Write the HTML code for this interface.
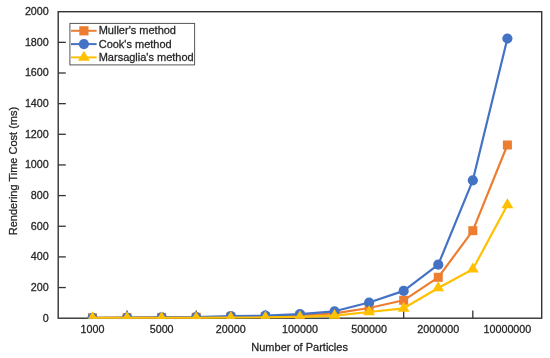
<!DOCTYPE html><html><head><meta charset="utf-8"><title>chart</title><style>html,body{margin:0;padding:0;background:#fff}svg{display:block}text{stroke:#262626;stroke-width:.28px}</style></head><body><svg width="550" height="358" viewBox="0 0 550 358" font-family="'Liberation Sans', Arial, sans-serif" font-size="11.0" fill="#262626">
<rect width="550" height="358" fill="#fff"/>
<defs><clipPath id="c"><rect x="58.2" y="11.7" width="483.50000000000006" height="307.1"/></clipPath></defs>
<line x1="58.2" x2="65.8" y1="287.55" y2="287.55" stroke="#333" stroke-width="1.3"/>
<line x1="58.2" x2="65.8" y1="256.90" y2="256.90" stroke="#333" stroke-width="1.3"/>
<line x1="58.2" x2="65.8" y1="226.25" y2="226.25" stroke="#333" stroke-width="1.3"/>
<line x1="58.2" x2="65.8" y1="195.60" y2="195.60" stroke="#333" stroke-width="1.3"/>
<line x1="58.2" x2="65.8" y1="164.95" y2="164.95" stroke="#333" stroke-width="1.3"/>
<line x1="58.2" x2="65.8" y1="134.30" y2="134.30" stroke="#333" stroke-width="1.3"/>
<line x1="58.2" x2="65.8" y1="103.65" y2="103.65" stroke="#333" stroke-width="1.3"/>
<line x1="58.2" x2="65.8" y1="73.00" y2="73.00" stroke="#333" stroke-width="1.3"/>
<line x1="58.2" x2="65.8" y1="42.35" y2="42.35" stroke="#333" stroke-width="1.3"/>
<text x="48.8" y="321.50" text-anchor="end" font-size="10.75">0</text>
<text x="48.8" y="290.85" text-anchor="end" font-size="10.75">200</text>
<text x="48.8" y="260.20" text-anchor="end" font-size="10.75">400</text>
<text x="48.8" y="229.55" text-anchor="end" font-size="10.75">600</text>
<text x="48.8" y="198.90" text-anchor="end" font-size="10.75">800</text>
<text x="48.8" y="168.25" text-anchor="end" font-size="10.75">1000</text>
<text x="48.8" y="137.60" text-anchor="end" font-size="10.75">1200</text>
<text x="48.8" y="106.95" text-anchor="end" font-size="10.75">1400</text>
<text x="48.8" y="76.30" text-anchor="end" font-size="10.75">1600</text>
<text x="48.8" y="45.65" text-anchor="end" font-size="10.75">1800</text>
<text x="48.8" y="15.00" text-anchor="end" font-size="10.75">2000</text>
<line x1="127.07" x2="127.07" y1="318.2" y2="310.4" stroke="#333" stroke-width="1.3"/>
<line x1="196.22" x2="196.22" y1="318.2" y2="310.4" stroke="#333" stroke-width="1.3"/>
<line x1="265.38" x2="265.38" y1="318.2" y2="310.4" stroke="#333" stroke-width="1.3"/>
<line x1="334.52" x2="334.52" y1="318.2" y2="310.4" stroke="#333" stroke-width="1.3"/>
<line x1="403.67" x2="403.67" y1="318.2" y2="310.4" stroke="#333" stroke-width="1.3"/>
<line x1="472.82" x2="472.82" y1="318.2" y2="310.4" stroke="#333" stroke-width="1.3"/>
<text x="92.50" y="332.7" text-anchor="middle" font-size="10.75">1000</text>
<text x="161.65" y="332.7" text-anchor="middle" font-size="10.75">5000</text>
<text x="230.80" y="332.7" text-anchor="middle" font-size="10.75">20000</text>
<text x="299.95" y="332.7" text-anchor="middle" font-size="10.75">100000</text>
<text x="369.10" y="332.7" text-anchor="middle" font-size="10.75">500000</text>
<text x="438.25" y="332.7" text-anchor="middle" font-size="10.75">2000000</text>
<text x="507.40" y="332.7" text-anchor="middle" font-size="10.75">10000000</text>
<text x="299.6" y="350.9" text-anchor="middle">Number of Particles</text>
<text transform="translate(17.1,171) rotate(-90)" text-anchor="middle">Rendering Time Cost (ms)</text>
<rect x="58.2" y="11.7" width="483.50000000000006" height="306.5" fill="none" stroke="#333" stroke-width="1.4"/>
<g clip-path="url(#c)">
<polyline points="92.50,317.80 127.07,317.70 161.65,317.40 196.22,317.30 230.80,317.00 265.38,316.60 299.95,315.50 334.52,313.30 369.10,308.00 403.67,300.30 438.25,277.30 472.82,230.70 507.40,145.00" fill="none" stroke="#ED7D31" stroke-width="2.2" stroke-linejoin="round"/>
<rect x="88.00" y="313.30" width="9" height="9" fill="#ED7D31"/>
<rect x="122.57" y="313.20" width="9" height="9" fill="#ED7D31"/>
<rect x="157.15" y="312.90" width="9" height="9" fill="#ED7D31"/>
<rect x="191.72" y="312.80" width="9" height="9" fill="#ED7D31"/>
<rect x="226.30" y="312.50" width="9" height="9" fill="#ED7D31"/>
<rect x="260.88" y="312.10" width="9" height="9" fill="#ED7D31"/>
<rect x="295.45" y="311.00" width="9" height="9" fill="#ED7D31"/>
<rect x="330.02" y="308.80" width="9" height="9" fill="#ED7D31"/>
<rect x="364.60" y="303.50" width="9" height="9" fill="#ED7D31"/>
<rect x="399.17" y="295.80" width="9" height="9" fill="#ED7D31"/>
<rect x="433.75" y="272.80" width="9" height="9" fill="#ED7D31"/>
<rect x="468.32" y="226.20" width="9" height="9" fill="#ED7D31"/>
<rect x="502.90" y="140.50" width="9" height="9" fill="#ED7D31"/>
<polyline points="92.50,317.80 127.07,317.70 161.65,317.30 196.22,317.10 230.80,316.00 265.38,315.70 299.95,314.10 334.52,311.30 369.10,302.50 403.67,290.90 438.25,264.70 472.82,180.30 507.40,38.50" fill="none" stroke="#4472C4" stroke-width="2.2" stroke-linejoin="round"/>
<circle cx="92.50" cy="317.80" r="5.1" fill="#4472C4"/>
<circle cx="127.07" cy="317.70" r="5.1" fill="#4472C4"/>
<circle cx="161.65" cy="317.30" r="5.1" fill="#4472C4"/>
<circle cx="196.22" cy="317.10" r="5.1" fill="#4472C4"/>
<circle cx="230.80" cy="316.00" r="5.1" fill="#4472C4"/>
<circle cx="265.38" cy="315.70" r="5.1" fill="#4472C4"/>
<circle cx="299.95" cy="314.10" r="5.1" fill="#4472C4"/>
<circle cx="334.52" cy="311.30" r="5.1" fill="#4472C4"/>
<circle cx="369.10" cy="302.50" r="5.1" fill="#4472C4"/>
<circle cx="403.67" cy="290.90" r="5.1" fill="#4472C4"/>
<circle cx="438.25" cy="264.70" r="5.1" fill="#4472C4"/>
<circle cx="472.82" cy="180.30" r="5.1" fill="#4472C4"/>
<circle cx="507.40" cy="38.50" r="5.1" fill="#4472C4"/>
<polyline points="92.50,317.90 127.07,317.90 161.65,317.90 196.22,317.90 230.80,317.70 265.38,317.40 299.95,316.90 334.52,315.60 369.10,312.00 403.67,308.30 438.25,288.00 472.82,269.20 507.40,204.90" fill="none" stroke="#FFC000" stroke-width="2.2" stroke-linejoin="round"/>
<polygon points="92.50,311.23 98.40,321.23 86.60,321.23" fill="#FFC000"/>
<polygon points="127.07,311.23 132.97,321.23 121.17,321.23" fill="#FFC000"/>
<polygon points="161.65,311.23 167.55,321.23 155.75,321.23" fill="#FFC000"/>
<polygon points="196.22,311.23 202.12,321.23 190.32,321.23" fill="#FFC000"/>
<polygon points="230.80,311.03 236.70,321.03 224.90,321.03" fill="#FFC000"/>
<polygon points="265.38,310.73 271.27,320.73 259.48,320.73" fill="#FFC000"/>
<polygon points="299.95,310.23 305.85,320.23 294.05,320.23" fill="#FFC000"/>
<polygon points="334.52,308.93 340.42,318.93 328.62,318.93" fill="#FFC000"/>
<polygon points="369.10,305.33 375.00,315.33 363.20,315.33" fill="#FFC000"/>
<polygon points="403.67,301.63 409.57,311.63 397.77,311.63" fill="#FFC000"/>
<polygon points="438.25,281.33 444.15,291.33 432.35,291.33" fill="#FFC000"/>
<polygon points="472.82,262.53 478.72,272.53 466.92,272.53" fill="#FFC000"/>
<polygon points="507.40,198.23 513.30,208.23 501.50,208.23" fill="#FFC000"/>
</g>
<rect x="69.9" y="23.4" width="124.7" height="41.5" fill="#fff" stroke="#555" stroke-width="1"/>
<line x1="71" x2="96.6" y1="30.8" y2="30.8" stroke="#ED7D31" stroke-width="2"/>
<rect x="79.30000000000001" y="26.200000000000003" width="9.2" height="9.2" fill="#ED7D31"/>
<text x="98.7" y="34.30">Muller's method</text>
<line x1="71" x2="96.6" y1="44.1" y2="44.1" stroke="#4472C4" stroke-width="2"/>
<circle cx="83.9" cy="44.1" r="5.1" fill="#4472C4"/>
<text x="98.7" y="47.60">Cook's method</text>
<line x1="71" x2="96.6" y1="57.4" y2="57.4" stroke="#FFC000" stroke-width="2"/>
<polygon points="83.90,50.73 89.80,60.73 78.00,60.73" fill="#FFC000"/>
<text x="98.7" y="60.90">Marsaglia's method</text>
</svg></body></html>
